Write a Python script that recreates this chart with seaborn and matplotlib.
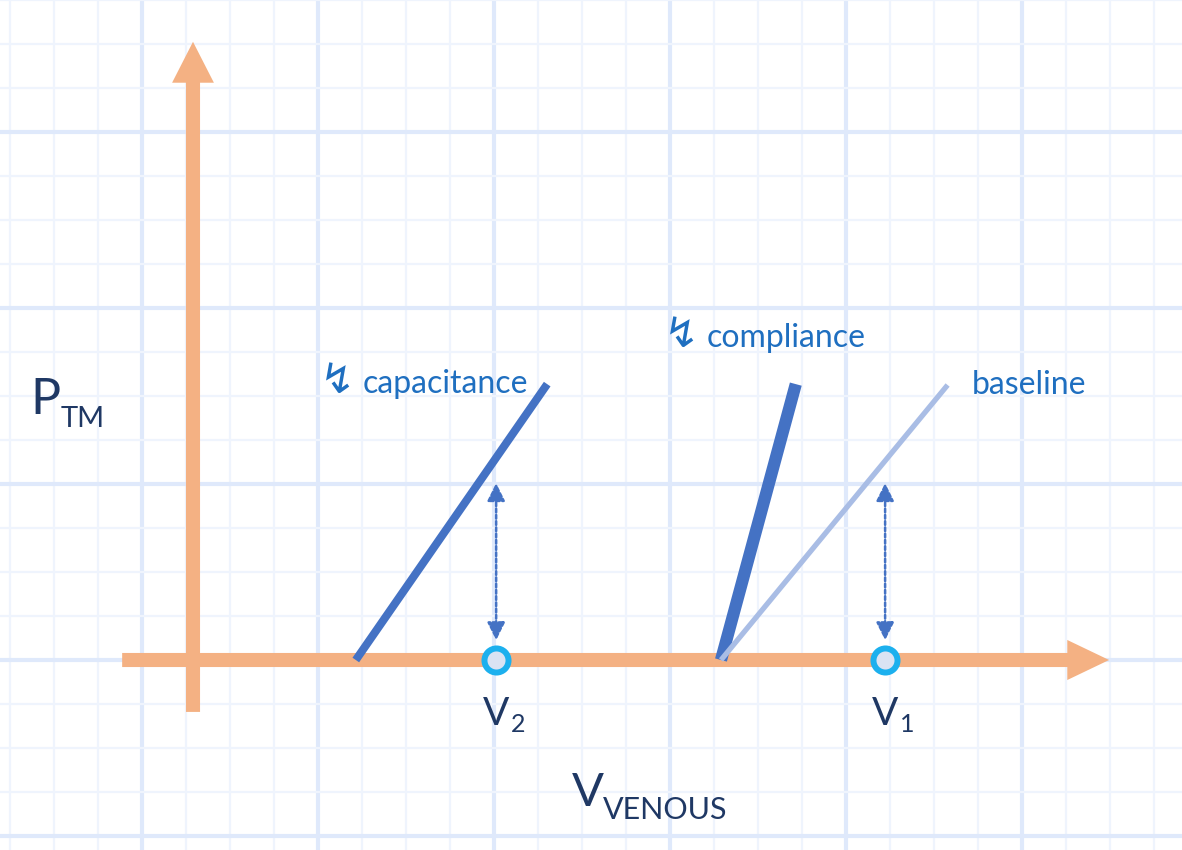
import numpy as np
import pandas as pd
import matplotlib.pyplot as plt
import seaborn as sns

# curves: x in grid squares right of the P axis, y in grid squares above the V axis
curve_names = ['capacitance', 'compliance', 'baseline']
curve_x0 = [3.7, 12.0, 12.0]
curve_x1 = [8.05, 13.7, 17.15]
curve_y1 = [6.27, 6.27, 6.25]
curve_labels = ['↯ capacitance', '↯ compliance', 'baseline']

# volumes marked on the V axis
volume_subs = ['2', '1']
volume_x = [6.89, 15.73]
arrow_top = 4.02
arrow_bottom = 0.45

seg = pd.DataFrame({
    'curve': np.repeat(curve_names, 2),
    'x': np.ravel(list(zip(curve_x0, curve_x1))),
    'y': np.ravel([[0, y] for y in curve_y1]),
})

sns.set_theme(style='white')
plt.rcParams['font.family'] = ['Lato', 'DejaVu Sans']

orange = '#F4B183'
navy = '#1F3864'
blue = '#1F6FC0'

fig = plt.figure(figsize=(11.82, 8.5), dpi=100)
ax = fig.add_axes([0, 0, 1, 1])

# graph paper (ticks first: set_xticks widens the view)
ax.set_xticks(np.arange(-1.16, 23, 4))
ax.set_xticks(np.arange(-5.16, 23, 1), minor=True)
ax.set_yticks(np.arange(-4, 16, 4))
ax.set_yticks(np.arange(-5, 16, 1), minor=True)
ax.grid(which='major', color='#DFE9FB', lw=3)
ax.grid(which='minor', color='#EFF4FD', lw=1.6)
ax.tick_params(which='both', length=0, labelbottom=False, labelleft=False)
for s in ax.spines.values():
    s.set_visible(False)
ax.set_axisbelow(True)

# axes arrows
ax.arrow(-1.61, 0, 22.43, 0, width=0.32, head_width=0.91, head_length=0.95,
         length_includes_head=True, color=orange, lw=0, zorder=2)
ax.arrow(0, -1.18, 0, 15.23, width=0.32, head_width=0.95, head_length=0.93,
         length_includes_head=True, color=orange, lw=0, zorder=2)

# curves
styles = {'capacitance': ('#4472C4', 5.8), 'compliance': ('#4472C4', 8.8),
          'baseline': ('#A9BDE5', 3.8)}
for name in curve_names:
    c, w = styles[name]
    sns.lineplot(data=seg[seg.curve == name], x='x', y='y', color=c, linewidth=w,
                 solid_capstyle='butt', ax=ax, zorder=3)

# dotted double arrows
for x in volume_x:
    ax.annotate('', xy=(x, arrow_top), xytext=(x, arrow_bottom),
                arrowprops=dict(arrowstyle='<|-|>,head_length=0.9,head_width=0.45',
                                color='#4472C4', lw=1.8, linestyle=(0, (1.5, 1)),
                                shrinkA=0, shrinkB=0), zorder=4)

# volume markers
sns.scatterplot(x=volume_x, y=[0] * len(volume_x), s=300, color='#DAE3F3',
                edgecolor='#1CB0EE', linewidth=4.3, ax=ax, zorder=5)

ax.set_xlim(-193 / 44, 989 / 44)
ax.set_ylim(-190 / 44, 660 / 44)

# volume labels
for x, sub in zip(volume_x, volume_subs):
    t = ax.text(x, -1.48, 'V', fontsize=28, color=navy, ha='center', va='baseline')
    ax.annotate(sub, xy=(1, -1.64), xycoords=(t, 'data'), xytext=(1, 0),
                textcoords='offset points', fontsize=18, color=navy, va='baseline')

# axis labels
p = ax.text(-3.70, 5.59, 'P', fontsize=36, color=navy, va='baseline')
ax.annotate('TM', xy=(1, 5.30), xycoords=(p, 'data'), xytext=(0, 0),
            textcoords='offset points', fontsize=21, color=navy, va='baseline')
v = ax.text(8.61, -3.32, 'V', fontsize=34, color=navy, va='baseline')
ax.annotate('VENOUS', xy=(1, -3.61), xycoords=(v, 'data'), xytext=(-1, 0),
            textcoords='offset points', fontsize=22, color=navy, va='baseline')


# curve labels: the ↯ sign is drawn a bit larger than the word
def curve_label(x, y, label):
    if label.startswith('↯'):
        s = ax.text(x, y, '↯', fontsize=30, color=blue, va='baseline',
                    family='DejaVu Sans')
        ax.annotate(label[2:], xy=(1, y), xycoords=(s, 'data'), xytext=(6, 0),
                    textcoords='offset points', fontsize=23, color=blue, va='baseline')
    else:
        ax.text(x, y, label, fontsize=23, color=blue, va='baseline')


curve_label(2.88, 6.07, curve_labels[0])
curve_label(10.70, 7.11, curve_labels[1])
curve_label(17.7, 6.05, curve_labels[2])

ax.set_xlabel('')
ax.set_ylabel('')
fig.savefig('out.png', dpi=100)
